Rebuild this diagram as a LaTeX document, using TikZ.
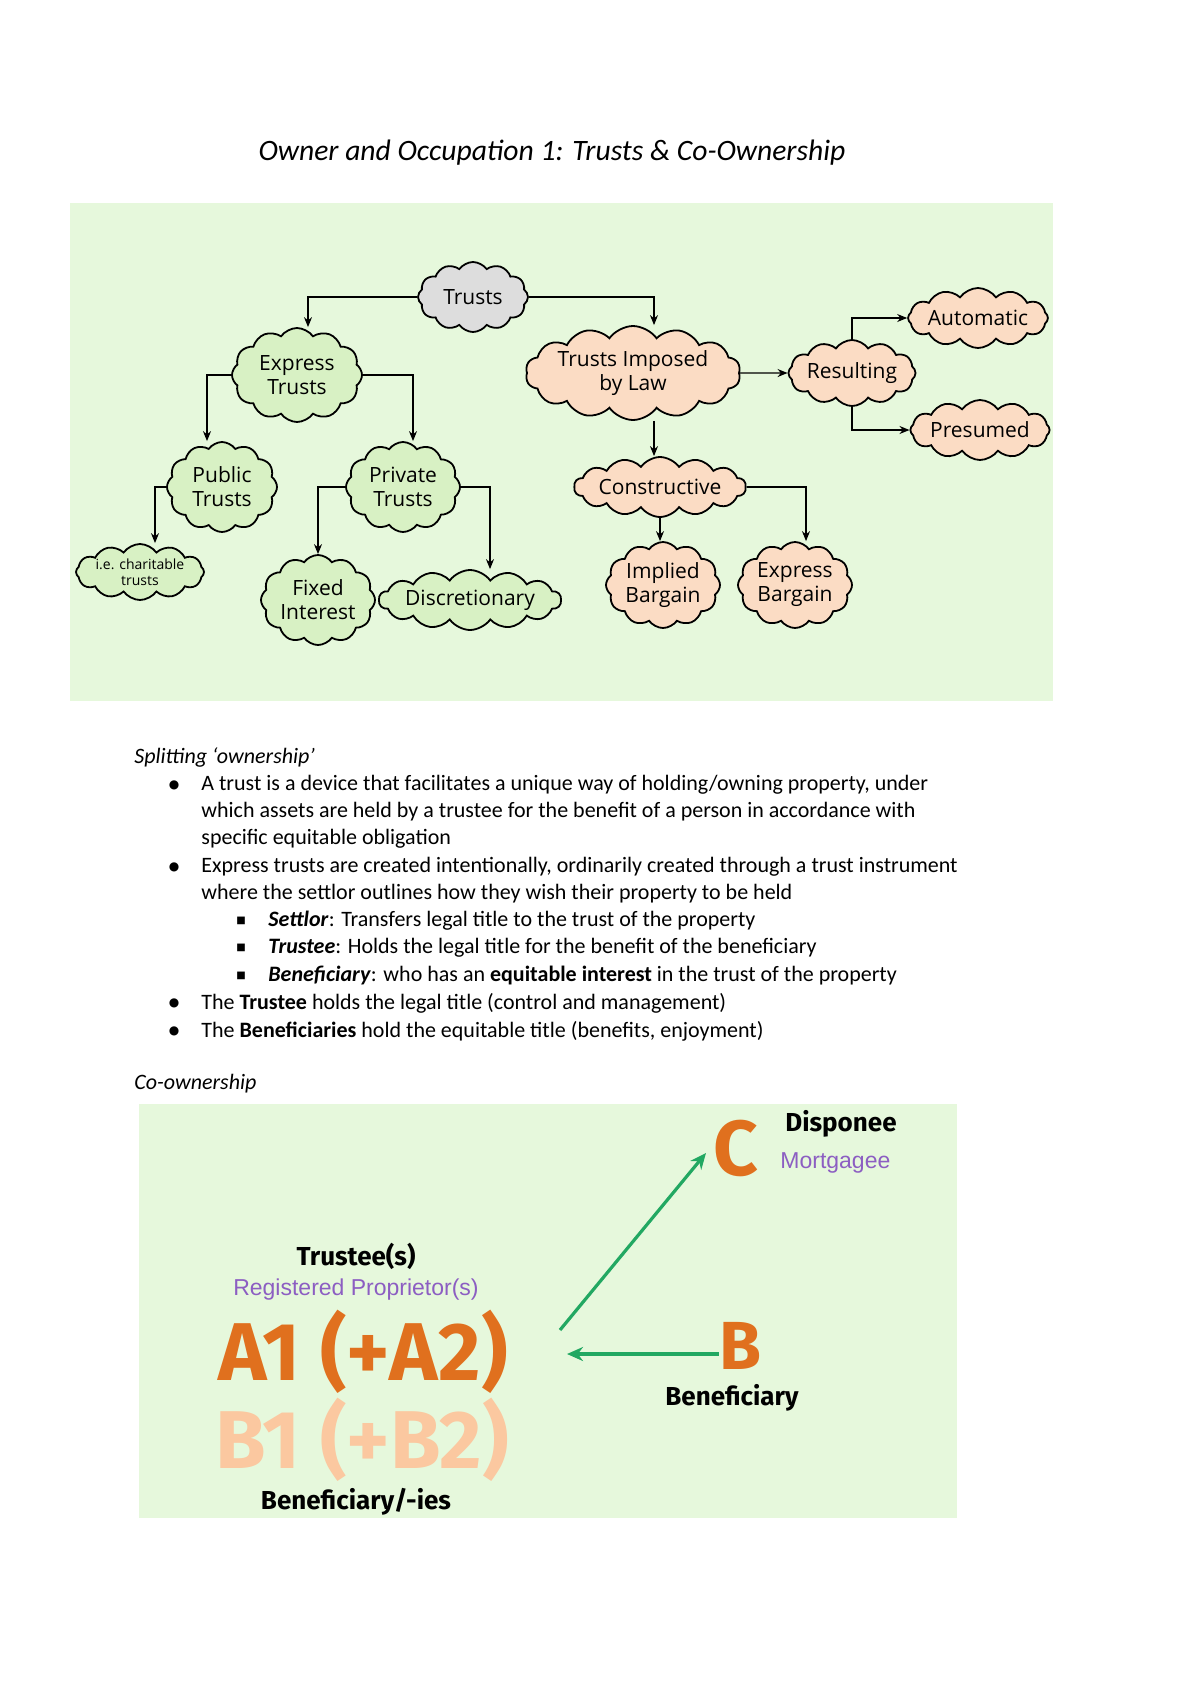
\documentclass[tikz,border=0pt]{standalone}
\usepackage{fontspec}
\setmainfont{Carlito}
\newfontfamily\cloudfont{Open Sans}
\newfontfamily\handfont{Fira Sans}
\newfontfamily\arialfont{Liberation Sans}
\newfontfamily\symfont{DejaVu Sans}
\usetikzlibrary{shapes.symbols,arrows.meta}
\definecolor{bgreen}{HTML}{E6F8DC}
\definecolor{cgreen}{HTML}{D8F1C4}
\definecolor{cgray}{HTML}{DDDDDD}
\definecolor{cpeach}{HTML}{FBDCC4}
\definecolor{aorange}{HTML}{E0701E}
\definecolor{lorange}{HTML}{FBC8A0}
\definecolor{apurple}{HTML}{8C5EC2}
\definecolor{agreen}{HTML}{22A862}
\tikzset{
  cloudbox/.style={cloud, cloud puffs=12, cloud puff arc=110, cloud ignores aspect,
    draw=black, line width=0.9pt, align=center, inner sep=0pt,
    font=\cloudfont\fontsize{10.5}{12}\selectfont},
  conn/.style={-{Stealth[length=5pt,width=4pt]}, line width=0.6pt},
  bodytext/.style={anchor=west, inner sep=0pt, font=\fontsize{11}{13}\selectfont},
  bul/.style={anchor=center, inner sep=0pt, font=\symfont\fontsize{6}{7}\selectfont},
  sqbul/.style={anchor=center, inner sep=0pt, font=\symfont\fontsize{5}{6}\selectfont},
  hand/.style={inner sep=0pt, font=\handfont\bfseries\fontsize{13}{15}\selectfont},
  arial/.style={inner sep=0pt, text=apurple, font=\arialfont\fontsize{11.5}{13}\selectfont},
  big/.style={inner sep=0pt, font=\handfont\bfseries\fontsize{41}{44}\selectfont},
  garrow/.style={draw=agreen, line width=1.6pt, -{Stealth[length=8pt,width=7pt]}}
}
\begin{document}
\begin{tikzpicture}[x=0.5pt,y=-0.5pt]
\useasboundingbox (0,0) rectangle (1200,1698);
\fill[white] (0,0) rectangle (1200,1698);
% title
\node[inner sep=0pt, font=\itshape\fontsize{14.8}{17}\selectfont] (title) at (552,153) {Owner and Occupation 1: Trusts \& Co-Ownership};
% background 1
\fill[bgreen] (70,203) rectangle (1053,701);
% clouds
\node[cloudbox, fill=cgray, minimum width=55pt, minimum height=35pt] (trusts) at (473,297) {Trusts};
\node[cloudbox, fill=cgreen, minimum width=65pt, minimum height=47pt] (express) at (297,375) {Express\\Trusts};
\node[cloudbox, fill=cpeach, minimum width=105pt, minimum height=47pt, cloud puffs=14] (imposed) at (633,373) {Trusts Imposed\\by Law};
\node[cloudbox, fill=cpeach, minimum width=58pt, minimum height=33pt] (resulting) at (852,373) {Resulting};
\node[cloudbox, fill=cpeach, minimum width=56pt, minimum height=30pt] (automatic) at (978,318) {Automatic};
\node[cloudbox, fill=cpeach, minimum width=56pt, minimum height=30pt] (presumed) at (980,430) {Presumed};
\node[cloudbox, fill=cgreen, minimum width=55pt, minimum height=45pt] (public) at (222,487) {Public\\Trusts};
\node[cloudbox, fill=cgreen, minimum width=57pt, minimum height=45pt] (private) at (403,487) {Private\\Trusts};
\node[cloudbox, fill=cgreen, minimum width=64pt, minimum height=28pt, font=\cloudfont\fontsize{7}{8}\selectfont] (charit) at (140,572) {i.e. charitable\\trusts};
\node[cloudbox, fill=cgreen, minimum width=57pt, minimum height=45pt] (fixed) at (318,600) {Fixed\\Interest};
\node[cloudbox, fill=cgreen, minimum width=83pt, minimum height=30pt, cloud puffs=14] (discr) at (470,600) {Discretionary};
\node[cloudbox, fill=cpeach, minimum width=80pt, minimum height=30pt, cloud puffs=14] (constr) at (660,487) {Constructive};
\node[cloudbox, fill=cpeach, minimum width=57pt, minimum height=43pt] (implied) at (663,585) {Implied\\Bargain};
\node[cloudbox, fill=cpeach, minimum width=57pt, minimum height=43pt] (exbarg) at (795,585) {Express\\Bargain};
% connectors
\draw[conn] (trusts.west) -| ([xshift=5.5pt]express.north);
\draw[conn] (trusts.east) -| ([xshift=10.5pt]imposed.north);
\draw[conn] (express.west) -| ([xshift=-7.5pt]public.north);
\draw[conn] (express.east) -| ([xshift=5pt]private.north);
\draw[conn] (public.west) -| ([xshift=7.5pt]charit.north);
\draw[conn] (private.west) -| (fixed.north);
\draw[conn] (private.east) -| ([xshift=10pt]discr.north);
\draw[conn] (imposed.east) -- (resulting.west);
\draw[conn] (resulting.north) |- (automatic.west);
\draw[conn] (resulting.south) |- (presumed.west);
\draw[conn] ([xshift=10.5pt]imposed.south) -- ([xshift=10.5pt]imposed.south |- constr.north);
\draw[conn] (constr.south) -- (constr.south |- implied.north);
\draw[conn] (constr.east) -| ([xshift=5.5pt]exbarg.north);
% body text
\node[bodytext, font=\itshape\fontsize{11}{13}\selectfont] (h1) at (134,757) {Splitting ‘ownership’};
\node[bul] (bu1) at (174,785) {●};
\node[bodytext] (t1) at (201,785) {A trust is a device that facilitates a unique way of holding/owning property, under};
\node[bodytext] (t2) at (201,812) {which assets are held by a trustee for the benefit of a person in accordance with};
\node[bodytext] (t3) at (201,839) {specific equitable obligation};
\node[bul] (bu2) at (174,867) {●};
\node[bodytext] (t4) at (201,867) {Express trusts are created intentionally, ordinarily created through a trust instrument};
\node[bodytext] (t5) at (201,894) {where the settlor outlines how they wish their property to be held};
\node[sqbul] (sq1) at (241,921) {■};
\node[bodytext] (t6) at (268,921) {\textbf{\textit{Settlor}}: Transfers legal title to the trust of the property};
\node[sqbul] (sq2) at (241,948) {■};
\node[bodytext] (t7) at (268,948) {\textbf{\textit{Trustee}}: Holds the legal title for the benefit of the beneficiary};
\node[sqbul] (sq3) at (241,976) {■};
\node[bodytext] (t8) at (268,976) {\textbf{\textit{Beneficiary}}: who has an \textbf{equitable interest} in the trust of the property};
\node[bul] (bu3) at (174,1003) {●};
\node[bodytext] (t9) at (201,1003) {The \textbf{Trustee} holds the legal title (control and management)};
\node[bul] (bu4) at (174,1031) {●};
\node[bodytext] (t10) at (201,1031) {The \textbf{Beneficiaries} hold the equitable title (benefits, enjoyment)};
\node[bodytext, font=\itshape\fontsize{11}{13}\selectfont] (h2) at (134,1084) {Co-ownership};
% background 2
\fill[bgreen] (139,1104) rectangle (957,1518);
\node[big, text=aorange, font=\handfont\bfseries\fontsize{39}{40}\selectfont] (c) at (736,1148) {C};
\node[hand, anchor=west] (disp) at (785,1124) {Disponee};
\node[arial, anchor=west] (mort) at (780,1163) {Mortgagee};
\node[hand] (trustee) at (356,1256) {Trustee(s)};
\node[arial] (regp) at (356,1290) {Registered Proprietor(s)};
\node[big, text=aorange] (a1) at (363,1352) {A1\kern 10pt(+A2)};
\node[big, text=lorange] (b1) at (362,1440) {B1\kern 10pt(+B2)};
\node[hand] (benies) at (356,1502) {Beneficiary/-ies};
\node[big, text=aorange, font=\handfont\bfseries\fontsize{34}{36}\selectfont] (b) at (740,1346) {B};
\node[hand] (ben) at (732,1398) {Beneficiary};
\coordinate (gs) at (560,1330);
\coordinate (ge) at (706,1153);
\draw[garrow] (gs) -- (ge);
\coordinate (bl) at (567,1354);
\draw[garrow] (b.west |- bl) -- (bl);
\end{tikzpicture}
\end{document}
